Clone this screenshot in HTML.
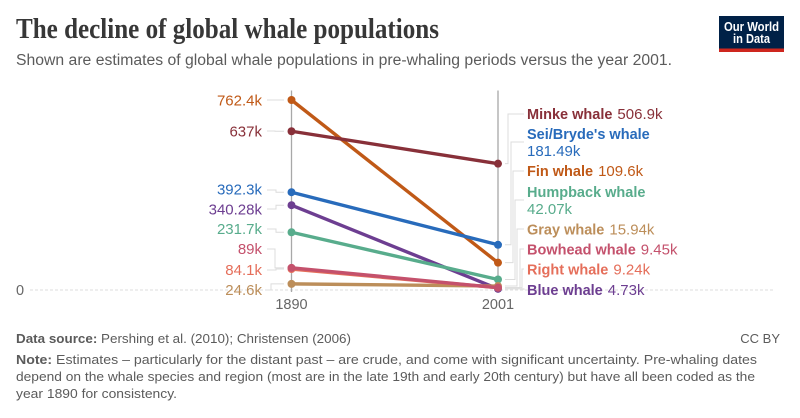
<!DOCTYPE html>
<html lang="en">
<head>
<meta charset="utf-8">
<title>The decline of global whale populations</title>
<style>
html,body{margin:0;padding:0;background:#fff;}
svg{display:block;font-family:"Liberation Sans",sans-serif;}
</style>
</head>
<body>
<svg id="chart" width="800" height="418" viewBox="0 0 800 418" xmlns="http://www.w3.org/2000/svg">
  <text x="16" y="38" font-family="'Liberation Serif',serif" font-weight="700" font-size="29" fill="#373737" textLength="423" lengthAdjust="spacingAndGlyphs">The decline of global whale populations</text>
  <text x="16" y="65" font-size="15.5" fill="#5b5b5b" textLength="656" lengthAdjust="spacingAndGlyphs">Shown are estimates of global whale populations in pre-whaling periods versus the year 2001.</text>
  <g>
    <rect x="719" y="16" width="65" height="36" fill="#002147"/>
    <rect x="719" y="48.5" width="65" height="3.5" fill="#ce261e"/>
    <text x="751.5" y="31" text-anchor="middle" font-size="13" font-weight="700" fill="#fff" textLength="55" lengthAdjust="spacingAndGlyphs">Our World</text>
    <text x="751.5" y="43" text-anchor="middle" font-size="13" font-weight="700" fill="#fff" textLength="37" lengthAdjust="spacingAndGlyphs">in Data</text>
  </g>
  <g id="plot"></g>
  <text x="16" y="343" font-size="13" fill="#5b5b5b" textLength="335" lengthAdjust="spacingAndGlyphs"><tspan font-weight="700">Data source:</tspan> Pershing et al. (2010); Christensen (2006)</text>
  <text x="780" y="343" text-anchor="end" font-size="13" fill="#5b5b5b">CC BY</text>
  <text x="16" y="364" font-size="13" fill="#5b5b5b" textLength="741" lengthAdjust="spacingAndGlyphs"><tspan font-weight="700">Note:</tspan> Estimates – particularly for the distant past – are crude, and come with significant uncertainty. Pre-whaling dates</text>
  <text x="16" y="381" font-size="13" fill="#5b5b5b" textLength="739" lengthAdjust="spacingAndGlyphs">depend on the whale species and region (most are in the late 19th and early 20th century) but have all been coded as the</text>
  <text x="16" y="398" font-size="13" fill="#5b5b5b" textLength="161" lengthAdjust="spacingAndGlyphs">year 1890 for consistency.</text>
</svg>
<script>
// Chart data (thousands of whales)
const years = [1890, 2001];
const seriesNames = ["Fin whale", "Minke whale", "Blue whale", "Humpback whale", "Sei/Bryde's whale", "Gray whale", "Right whale", "Bowhead whale"];
const values1890 = [762.4, 637, 340.28, 231.7, 392.3, 24.6, 84.1, 89];
const values2001 = [109.6, 506.9, 4.73, 42.07, 181.49, 15.94, 9.24, 9.45];
const seriesColors = ["#c05917", "#883039", "#6d3e91", "#58ac8c", "#286bbb", "#bc8e5a", "#e56e5a", "#c4516c"];
const zeroTickLabels = ["0"];

// Layout, keyed by series name
const leftLabelLayout = {
  "Fin whale": {base: 105.5, anchor: 100, mid: 275},
  "Minke whale": {base: 136.5, anchor: 131, mid: 275},
  "Sei/Bryde's whale": {base: 194.5, anchor: 190, mid: 276},
  "Blue whale": {base: 214.5, anchor: 209, mid: 276},
  "Humpback whale": {base: 234, anchor: 229, mid: 276},
  "Bowhead whale": {base: 254, anchor: 249, mid: 275},
  "Right whale": {base: 275, anchor: 270, mid: 276},
  "Gray whale": {base: 295, anchor: 290, mid: 271}
};
const rightLabelLayout = {
  "Minke whale": {base: 119, anchor: 114, mid: 508},
  "Sei/Bryde's whale": {base: 139, anchor: 142, mid: 511, wrap: true},
  "Fin whale": {base: 176, anchor: 171, mid: 513},
  "Humpback whale": {base: 197, anchor: 200, mid: 515, wrap: true},
  "Gray whale": {base: 234.5, anchor: 229, mid: 517},
  "Bowhead whale": {base: 254.5, anchor: 249, mid: 520},
  "Right whale": {base: 274.5, anchor: 269, mid: 522},
  "Blue whale": {base: 295, anchor: 290, mid: 524}
};

const NS = "http://www.w3.org/2000/svg";
const plot = document.getElementById("plot");
const yBase = 290, yPerK = 190 / 762.4;
const xLeft = 291.5, xRight = 498;
function yScale(v) { return yBase - v * yPerK; }
function xScale(year) { return xLeft + (year - years[0]) / (years[1] - years[0]) * (xRight - xLeft); }
function fmt(v) { return v + "k"; }
function mk(tag, attrs, parent) {
  const el = document.createElementNS(NS, tag);
  for (const k in attrs) el.setAttribute(k, attrs[k]);
  (parent || plot).appendChild(el);
  return el;
}
function slug(s) { return s.toLowerCase().replace(/[^a-z]+/g, "-"); }

// zero gridline and label
const zeroLine = mk("line", {x1: 30, x2: 773, y1: yScale(0), y2: yScale(0), stroke: "#dddddd", "stroke-width": 1, "stroke-dasharray": "3 2"});


const zeroLabel = mk("text", {x: 16, y: 295, "font-size": 14.5, fill: "#666"});


zeroLabel.textContent = zeroTickLabels[0];

// year axes
years.forEach(function (yr) {
  const axis = mk("line", {x1: xScale(yr), x2: xScale(yr), y1: 90.5, y2: 292, stroke: "#a8a8a8", "stroke-width": 1.3});
  
  
  const tick = mk("text", {x: xScale(yr), y: 309, "text-anchor": "middle", "font-size": 14.5, fill: "#666"});
  
  
  tick.textContent = yr;
});

// connectors
seriesNames.forEach(function (name, i) {
  const yL = yScale(values1890[i]), yR = yScale(values2001[i]);
  const l = leftLabelLayout[name], r = rightLabelLayout[name];
  const c1 = mk("path", {d: "M267 " + l.anchor + "H" + l.mid + "V" + yL + "H284", fill: "none", stroke: "#dcdcdc", "stroke-width": 1});
  
  
  const c2 = mk("path", {d: "M505 " + yR + "H" + r.mid + "V" + r.anchor + "H524", fill: "none", stroke: "#dcdcdc", "stroke-width": 1});
  
  
});

// slopes and points
seriesNames.forEach(function (name, i) {
  const g = mk("g", {});
  
  
  const yL = yScale(values1890[i]), yR = yScale(values2001[i]);
  const line = mk("line", {x1: xScale(years[0]), y1: yL, x2: xScale(years[1]), y2: yR, stroke: seriesColors[i], "stroke-width": 3.4}, g);
  
  
  const p1 = mk("circle", {cx: xScale(years[0]), cy: yL, r: 4, fill: seriesColors[i]}, g);
  
  
  const p2 = mk("circle", {cx: xScale(years[1]), cy: yR, r: 4, fill: seriesColors[i]}, g);
  
  
});

// labels
seriesNames.forEach(function (name, i) {
  const l = leftLabelLayout[name], r = rightLabelLayout[name];
  const lt = mk("text", {x: 262, y: l.base, "text-anchor": "end", "font-size": 15, fill: seriesColors[i]});
  
  
  lt.textContent = fmt(values1890[i]);

  const rt = mk("text", {x: 527, y: r.base, "font-size": 14.5, fill: seriesColors[i]});
  
  
  const nm = mk("tspan", {"font-weight": 700}, rt);
  nm.textContent = name;
  const val = mk("tspan", r.wrap ? {x: 527, dy: 17, "font-size": 15} : {dx: 5, "font-size": 15}, rt);
  val.textContent = fmt(values2001[i]);
});
</script>
</body>
</html>
